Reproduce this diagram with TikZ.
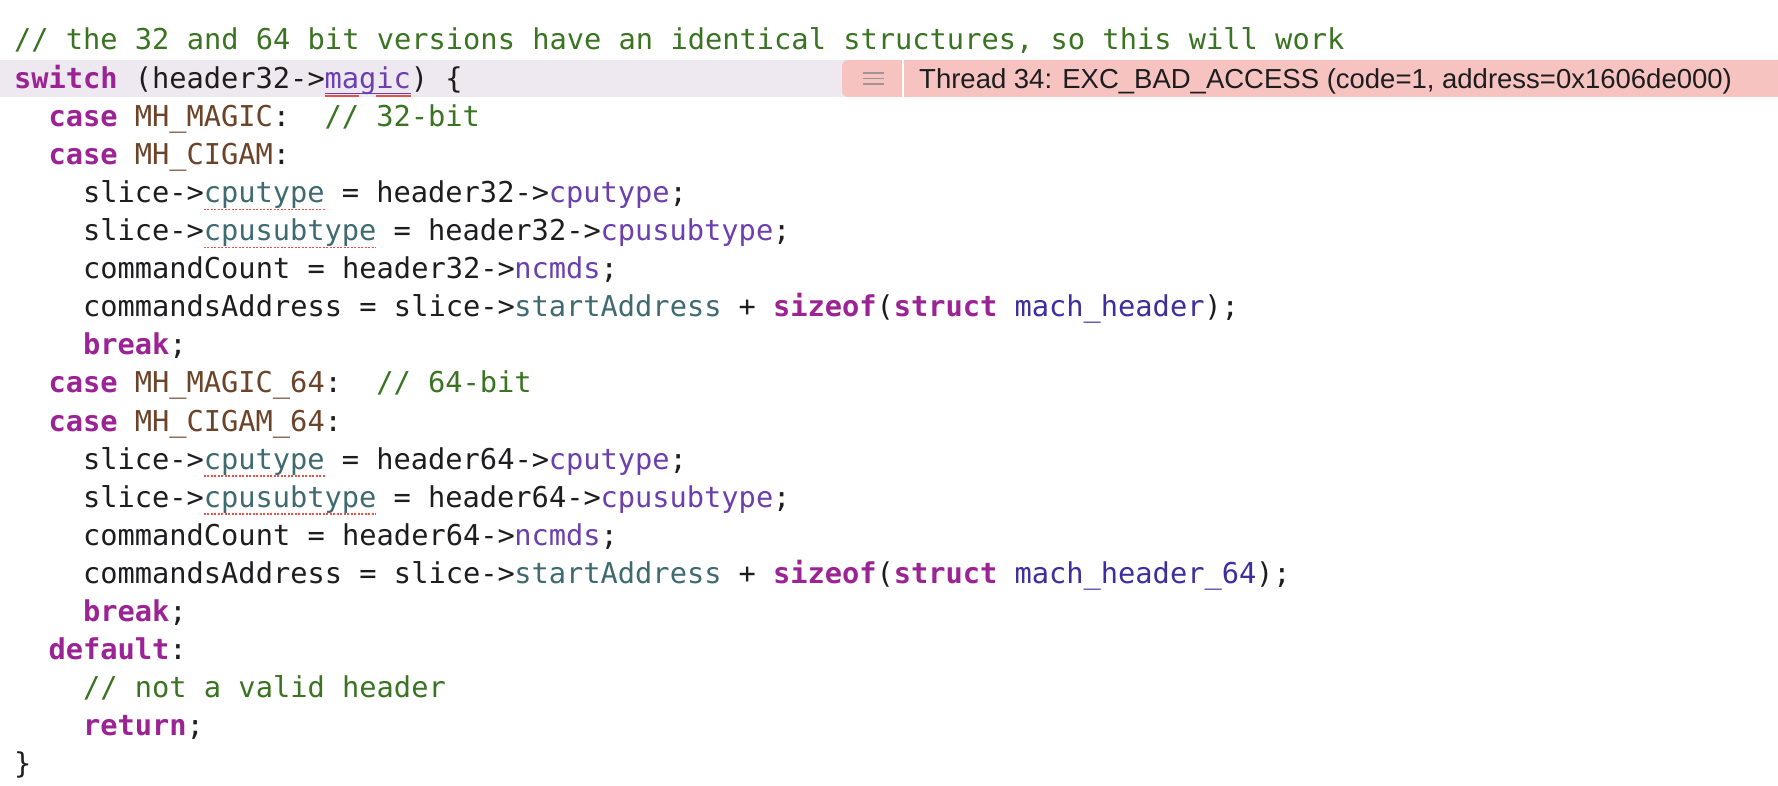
\documentclass[tikz,border=0pt]{standalone}
\usepackage{fontspec}
\setmonofont{DejaVu Sans Mono}
\setsansfont{Liberation Sans}
\definecolor{kw}{HTML}{9B2393}
\definecolor{mac}{HTML}{6B4329}
\definecolor{cmt}{HTML}{3A7321}
\definecolor{teal}{HTML}{3E6A70}
\definecolor{prp}{HTML}{6C3FAE}
\definecolor{typ}{HTML}{3D2DA0}
\definecolor{txt}{HTML}{1D1D1F}
\definecolor{hl}{HTML}{EEE8F0}
\definecolor{ban}{HTML}{F6C3C1}
\definecolor{sq}{HTML}{E8514A}
\newcommand\cw{17.25}
\newcommand\tk[4]{\node[tok,text=#3] (t#2x#1) at ({14+#1*\cw},{50+38.1*(#2-1)}) {#4};}
\newcommand\kk[3]{\node[tok,text=kw,font=\ttfamily\bfseries\fontsize{28.7}{30}\selectfont] (t#2x#1) at ({14+#1*\cw},{50+38.1*(#2-1)}) {#3};}
\newcommand\sqg[3]{\draw[sq,line width=1.6pt,dash pattern=on 2pt off 1.5pt] ({14+#1*\cw},{50+38.1*(#2-1)+7}) -- ({14+(#1+#3)*\cw},{50+38.1*(#2-1)+7});}
\begin{document}
\begin{tikzpicture}[x=1pt,y=-1pt,
  tok/.style={anchor=base west,inner sep=0pt,outer sep=0pt,font=\ttfamily\fontsize{28.7}{30}\selectfont}]
\useasboundingbox (0,0) rectangle (1778,786);
\fill[white] (0,0) rectangle (1778,786);
\fill[hl] (0,60) rectangle (850,97);
\fill[ban,rounded corners=6pt] (842,60) rectangle (1790,97);
\fill[ban] (1000,60) rectangle (1778,97);
\draw[white,line width=1.8pt] (903,60) -- (903,97);
\foreach \yy in {73,78.5,84} \draw[gray!70!ban,line width=1.2pt] (863,\yy) -- (884,\yy);
\node[anchor=base west,inner sep=0pt,font=\sffamily\fontsize{27.5}{30}\selectfont,text=txt] (err) at (919,89) {Thread 34: EXC\_BAD\_ACCESS (code=1, address=0x1606de000)};
% line 1
\tk{0}{1}{cmt}{// the 32 and 64 bit versions have an identical structures, so this will work}
% line 2
\kk{0}{2}{switch}
\tk{7}{2}{txt}{(header32->}
\tk{18}{2}{prp}{magic}
\tk{23}{2}{txt}{) \{}
\draw[prp,line width=1pt] (t2x18.base west) ++(0,5) -- ++(5*\cw,0);
\draw[sq,line width=1.6pt] ({14+18*\cw},{50+38.1+8}) -- ({14+20*\cw},{50+38.1+8});
\draw[sq,line width=1.6pt] ({14+21*\cw},{50+38.1+8}) -- ({14+23*\cw},{50+38.1+8});
% 3-4
\kk{2}{3}{case}\tk{7}{3}{mac}{MH\_MAGIC}\tk{15}{3}{txt}{:}\tk{18}{3}{cmt}{// 32-bit}
\kk{2}{4}{case}\tk{7}{4}{mac}{MH\_CIGAM}\tk{15}{4}{txt}{:}
% 5-9
\tk{4}{5}{txt}{slice->}\tk{11}{5}{teal}{cputype}\tk{19}{5}{txt}{= header32->}\tk{31}{5}{prp}{cputype}\tk{38}{5}{txt}{;}
\sqg{11}{5}{7}
\tk{4}{6}{txt}{slice->}\tk{11}{6}{teal}{cpusubtype}\tk{22}{6}{txt}{= header32->}\tk{34}{6}{prp}{cpusubtype}\tk{44}{6}{txt}{;}
\sqg{11}{6}{10}
\tk{4}{7}{txt}{commandCount = header32->}\tk{29}{7}{prp}{ncmds}\tk{34}{7}{txt}{;}
\tk{4}{8}{txt}{commandsAddress = slice->}\tk{29}{8}{teal}{startAddress}\tk{42}{8}{txt}{+}\kk{44}{8}{sizeof}\tk{50}{8}{txt}{(}\kk{51}{8}{struct}\tk{58}{8}{typ}{mach\_header}\tk{69}{8}{txt}{);}
\kk{4}{9}{break}\tk{9}{9}{txt}{;}
% 10-11
\kk{2}{10}{case}\tk{7}{10}{mac}{MH\_MAGIC\_64}\tk{18}{10}{txt}{:}\tk{21}{10}{cmt}{// 64-bit}
\kk{2}{11}{case}\tk{7}{11}{mac}{MH\_CIGAM\_64}\tk{18}{11}{txt}{:}
% 12-16
\tk{4}{12}{txt}{slice->}\tk{11}{12}{teal}{cputype}\tk{19}{12}{txt}{= header64->}\tk{31}{12}{prp}{cputype}\tk{38}{12}{txt}{;}
\sqg{11}{12}{7}
\tk{4}{13}{txt}{slice->}\tk{11}{13}{teal}{cpusubtype}\tk{22}{13}{txt}{= header64->}\tk{34}{13}{prp}{cpusubtype}\tk{44}{13}{txt}{;}
\sqg{11}{13}{10}
\tk{4}{14}{txt}{commandCount = header64->}\tk{29}{14}{prp}{ncmds}\tk{34}{14}{txt}{;}
\tk{4}{15}{txt}{commandsAddress = slice->}\tk{29}{15}{teal}{startAddress}\tk{42}{15}{txt}{+}\kk{44}{15}{sizeof}\tk{50}{15}{txt}{(}\kk{51}{15}{struct}\tk{58}{15}{typ}{mach\_header\_64}\tk{72}{15}{txt}{);}
\kk{4}{16}{break}\tk{9}{16}{txt}{;}
% 17-20
\kk{2}{17}{default}\tk{9}{17}{txt}{:}
\tk{4}{18}{cmt}{// not a valid header}
\kk{4}{19}{return}\tk{10}{19}{txt}{;}
\tk{0}{20}{txt}{\}}
\end{tikzpicture}
\end{document}
